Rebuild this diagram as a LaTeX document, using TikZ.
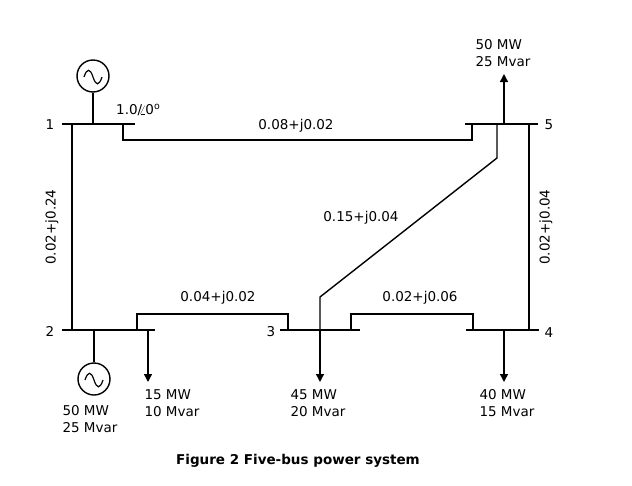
\documentclass[tikz,border=0pt]{standalone}
\usepackage{fontspec}
\setmainfont{DejaVu Sans}
\usetikzlibrary{arrows.meta}
\begin{document}
\begin{tikzpicture}[x=1pt,y=-1pt,
  bus/.style={line width=2.2pt},
  ln/.style={line width=1.4pt},
  ld/.style={line width=1.4pt,-{Triangle[length=8pt,width=8pt]}},
  gen/.style={circle,draw,line width=1.4pt,minimum size=32pt,inner sep=0pt},
  lab/.style={font=\fontsize{13.5}{16}\selectfont,inner sep=1pt},
  txt/.style={font=\fontsize{13.5}{16.5}\selectfont,align=left,inner sep=0pt}]
\path[use as bounding box] (0,0) rectangle (632,485);
% buses
\draw[bus] (62,124) coordinate (b1l) -- (135,124) coordinate (b1r);
\draw[bus] (465,124) coordinate (b5l) -- (538,124) coordinate (b5r);
\draw[bus] (62,330) coordinate (b2l) -- (155,330) coordinate (b2r);
\draw[bus] (280,330) coordinate (b3l) -- (360,330) coordinate (b3r);
\draw[bus] (466,330) coordinate (b4l) -- (539,330) coordinate (b4r);
\node[lab] (n1) at (50,125) {1};
\node[lab] (n5) at (549,125) {5};
\node[lab] (n2) at (50,331) {2};
\node[lab] (n3) at (271,332) {3};
\node[lab] (n4) at (549,333) {4};
% generators
\node[gen] (g1) at (93,76) {};
\draw[line width=1.2pt] (g1.center) ++(-9,1) .. controls +(3,-9) and +(-3,-9) .. ++(9,0) .. controls +(3,9) and +(-3,9) .. ++(9,0);
\draw[ln] (g1) -- (93,124);
\node[gen] (g2) at (94,379) {};
\draw[line width=1.2pt] (g2.center) ++(-9,1) .. controls +(3,-9) and +(-3,-9) .. ++(9,0) .. controls +(3,9) and +(-3,9) .. ++(9,0);
\draw[ln] (g2) -- (94,330);
\node[lab,anchor=west] (v1) at (115,110) {1.0/\hspace{-3pt}\raisebox{0.5pt}{$\angle$}\hspace{-1pt}0\textsuperscript{o}};
% lines
\draw[ln] (72,124) -- (72,330);
\node[lab,rotate=90] (z12) at (52,227) {0.02+j0.24};
\draw[ln] (123,124) -- (123,140) -- (472,140) -- (472,124);
\node[lab] (z15) at (296,126) {0.08+j0.02};
\draw[ln] (529,124) -- (529,330);
\node[lab,rotate=90] (z54) at (546,227) {0.02+j0.04};
\draw[ln] (497,124) -- (497,158) -- (320,297) -- (320,330);
\node[lab] (z35) at (361,218) {0.15+j0.04};
\draw[ln] (137,330) -- (137,314) -- (288,314) -- (288,330);
\node[lab] (z23) at (218,298) {0.04+j0.02};
\draw[ln] (351,330) -- (351,314) -- (473,314) -- (473,330);
\node[lab] (z34) at (420,298) {0.02+j0.06};
% loads
\coordinate (l5) at (504,74);
\draw[ld] (504,124) -- (l5);
\coordinate (l2) at (148,382);
\draw[ld] (148,330) -- (l2);
\coordinate (l3) at (320,382);
\draw[ld] (320,330) -- (l3);
\coordinate (l4) at (504,382);
\draw[ld] (504,330) -- (l4);
\node[txt] (t5) at (503,53) {50 MW\\25 Mvar};
\node[txt] (t2) at (90,419) {50 MW\\25 Mvar};
\node[txt] (t22) at (172,403) {15 MW\\10 Mvar};
\node[txt] (t3) at (318,403) {45 MW\\20 Mvar};
\node[txt] (t4) at (507,403) {40 MW\\15 Mvar};
\node[font=\fontsize{13.5}{16}\selectfont\bfseries] (cap) at (298,461) {Figure 2 Five-bus power system};
\end{tikzpicture}
\end{document}
